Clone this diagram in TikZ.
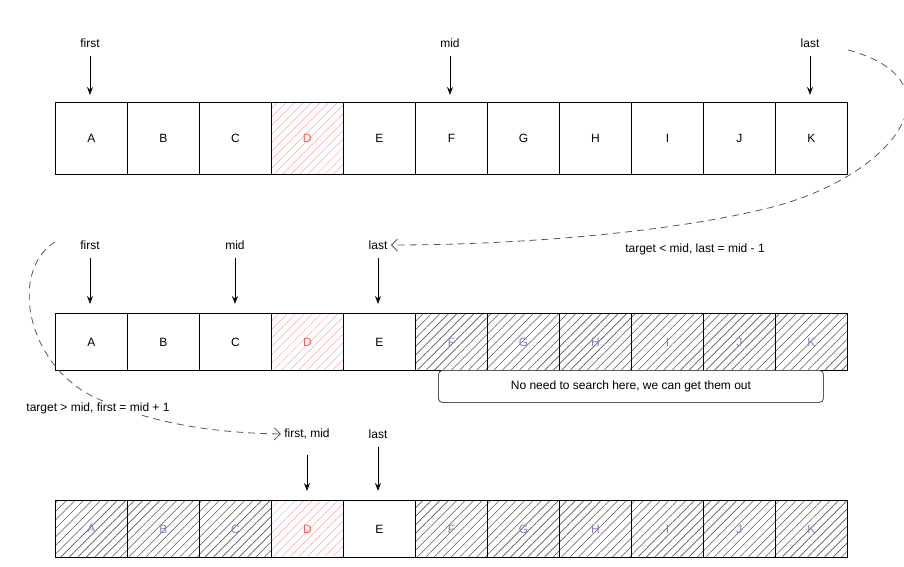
\documentclass[tikz,border=0pt]{standalone}
\usepackage{fontspec}
\setmainfont{Liberation Sans}
\usetikzlibrary{patterns.meta,arrows.meta}
\begin{document}
\begin{tikzpicture}[x=1pt,y=-1pt,
  cell/.style={draw=black,line width=0.9pt,minimum width=72pt,anchor=north west,inner sep=0pt,font=\fontsize{12}{14}\selectfont},
  gone/.style={cell,pattern={Lines[angle=45,distance=6pt,line width=0.6pt]},pattern color=gray!70!black,text=gray!60!blue!70},
  hit/.style={cell,pattern={Lines[angle=45,distance=6pt,line width=0.5pt]},pattern color=red!35,text=red!65},
  lab/.style={font=\fontsize{12}{14}\selectfont},
  ptr/.style={-{Stealth[open,length=8pt,width=6pt]},line width=1pt},
  jump/.style={dashed,dash pattern=on 7pt off 5pt,gray!70!black,line width=0.8pt,-{Straight Barb[length=6pt]}}]
\useasboundingbox (0,0) rectangle (904,567);
\fill[white] (0,0) rectangle (904,567);
\def\letters{A,B,C,D,E,F,G,H,I,J,K}
\foreach \L [count=\i from 0] in \letters {
  \pgfmathsetmacro\xx{55+72*\i}
  \ifnum\i=3 \node[hit,minimum height=72pt] (r1\i) at (\xx,102) {\L};
  \else \node[cell,minimum height=72pt] (r1\i) at (\xx,102) {\L}; \fi
  \ifnum\i=3 \node[hit,minimum height=57pt] (r2\i) at (\xx,313) {\L};
  \else\ifnum\i>4 \node[gone,minimum height=57pt] (r2\i) at (\xx,313) {\L};
  \else \node[cell,minimum height=57pt] (r2\i) at (\xx,313) {\L}; \fi\fi
  \ifnum\i=3 \node[hit,minimum height=57pt] (r3\i) at (\xx,500) {\L};
  \else\ifnum\i=4 \node[cell,minimum height=57pt] (r3\i) at (\xx,500) {\L};
  \else \node[gone,minimum height=57pt] (r3\i) at (\xx,500) {\L}; \fi\fi
}
\node[lab] (f1) at (90,43) {first};
\node[lab] (m1) at (450,43) {mid};
\node[lab] (l1) at (810,43) {last};
\draw[ptr] (f1.south) ++(0,5) -- (90,95);
\draw[ptr] (m1.south) ++(0,5) -- (450,95);
\draw[ptr] (l1.south) ++(0,5) -- (810,95);
\node[lab] (f2) at (90,245) {first};
\node[lab] (m2) at (235,245) {mid};
\node[lab] (l2) at (378,245) {last};
\draw[ptr] (f2.south) ++(0,5) -- (90,304);
\draw[ptr] (m2.south) ++(0,5) -- (235,304);
\draw[ptr] (l2.south) ++(0,5) -- (378,304);
\node[lab] (fm3) at (307,434) {first, mid};
\node[lab] (l3) at (378,434) {last};
\draw[ptr] (307,455) -- (307,491);
\draw[ptr] (l3.south) ++(0,5) -- (378,491);
\coordinate (j1s) at (848,50);
\draw[jump] (j1s) .. controls (960,80) and (900,170) .. (780,205) .. controls (680,232) and (520,245) .. (l2.east);
\node[lab] (t1) at (695,249) {target < mid, last = mid - 1};
\coordinate (j2s) at (55,242);
\draw[jump] (j2s) .. controls (10,270) and (25,360) .. (90,395) .. controls (150,425) and (220,433) .. (fm3.west);
\node[lab,fill=white,inner sep=1pt] (t2) at (98,408) {target > mid, first = mid + 1};
\node[draw=gray!70!black,line width=0.9pt,rounded corners=4pt,minimum width=385pt,minimum height=32pt,anchor=north west,font=\fontsize{12}{14}\selectfont] (note) at (438,370) {No need to search here, we can get them out};
\end{tikzpicture}
\end{document}
